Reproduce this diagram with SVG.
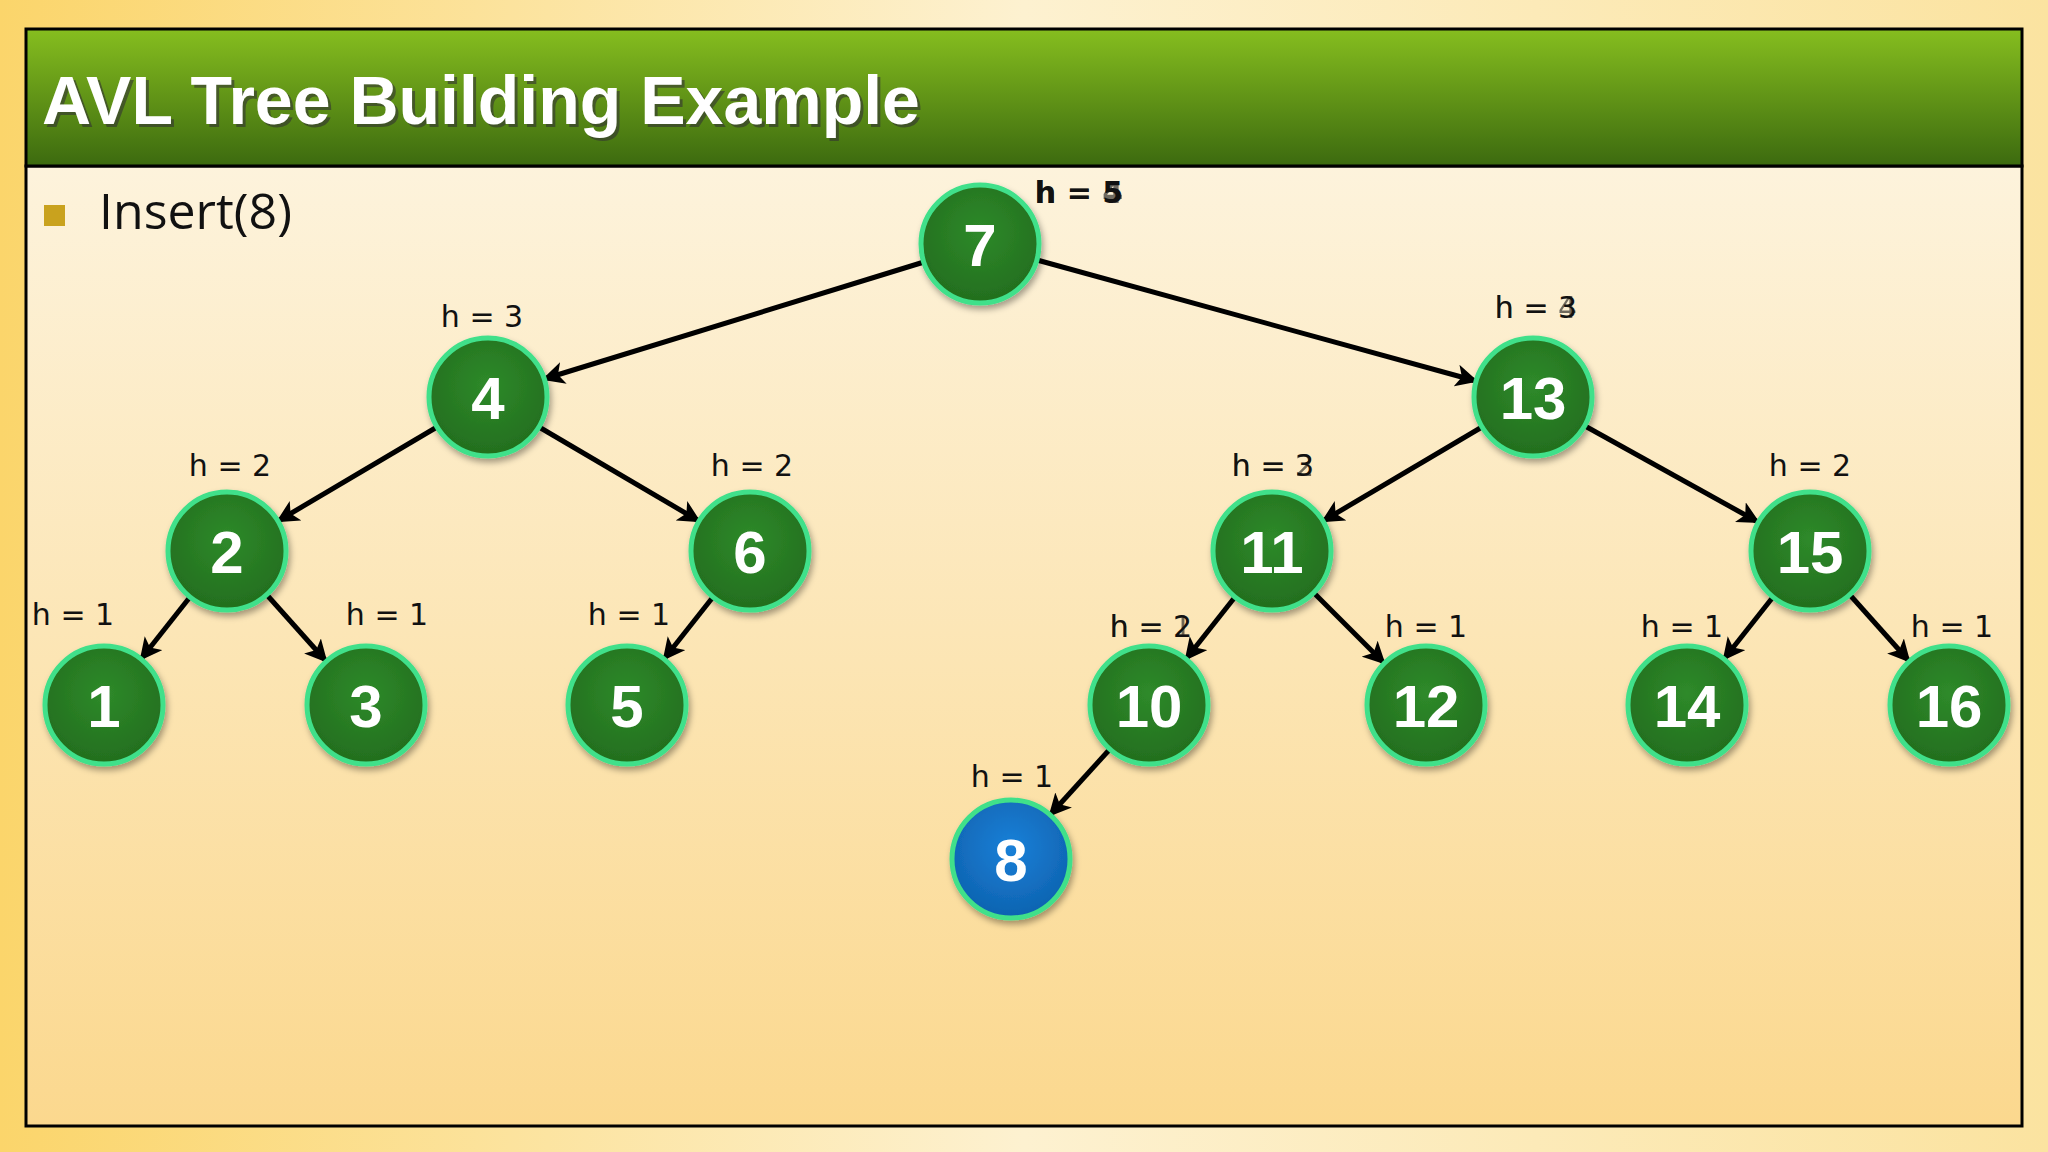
<svg xmlns="http://www.w3.org/2000/svg" width="2048" height="1152" viewBox="0 0 2048 1152">
<defs>
<linearGradient id="bg" x1="0" y1="0" x2="0" y2="1"><stop offset="0" stop-color="#fdf3dc"/><stop offset="1" stop-color="#fbd88e"/></linearGradient>
<linearGradient id="frame" x1="0" y1="0" x2="1" y2="0"><stop offset="0" stop-color="#fbd56b"/><stop offset="0.5" stop-color="#fdf1d0"/><stop offset="1" stop-color="#fbe3a0"/></linearGradient>
<linearGradient id="title" x1="0" y1="0" x2="0" y2="1"><stop offset="0" stop-color="#86be1f"/><stop offset="1" stop-color="#3c6a0f"/></linearGradient>
<radialGradient id="g" cx="0.5" cy="0.4" r="0.6"><stop offset="0" stop-color="#2e8a2a"/><stop offset="1" stop-color="#236e1e"/></radialGradient>
<radialGradient id="b" cx="0.5" cy="0.4" r="0.6"><stop offset="0" stop-color="#1a80d8"/><stop offset="1" stop-color="#0e63b0"/></radialGradient>
<marker id="ah" viewBox="0 0 10 10" refX="9" refY="5" markerWidth="4.5" markerHeight="4.5" orient="auto" markerUnits="strokeWidth"><path d="M0,0 L10,5 L0,10 L2.5,5 Z" fill="#000"/></marker>
<filter id="sh" x="-20%" y="-20%" width="140%" height="140%"><feDropShadow dx="2" dy="4" stdDeviation="3" flood-opacity="0.35"/></filter>
</defs>
<style>
.n circle{stroke:#3fe08a;stroke-width:5;filter:url(#sh)}
.n text{font-family:"Liberation Sans",Arial,sans-serif;font-weight:bold;font-size:60px;fill:#fff;text-anchor:middle}
.h{font-family:"DejaVu Sans","Liberation Sans",sans-serif;font-size:30px;fill:#111;text-anchor:middle}
#edges line{stroke:#000;stroke-width:5;marker-end:url(#ah)}
</style>
<rect width="2048" height="1152" fill="url(#frame)"/>
<rect x="26" y="166" width="1996" height="960" fill="url(#bg)" stroke="#000" stroke-width="3"/>
<rect x="26" y="29" width="1996" height="137" fill="url(#title)" stroke="#000" stroke-width="3"/>
<text x="45" y="127" font-family="Liberation Sans,Arial,sans-serif" font-weight="bold" font-size="68" fill="#333" opacity="0.6">AVL Tree Building Example</text>
<text x="42" y="124" font-family="Liberation Sans,Arial,sans-serif" font-weight="bold" font-size="68" fill="#fff">AVL Tree Building Example</text>
<rect x="44" y="205" width="21" height="21" fill="#c9a21e"/>
<text x="99" y="229" font-family="Open Sans,Liberation Sans,sans-serif" font-size="50" fill="#111">Insert(8)</text>
<g id="edges">
<line x1="924" y1="262" x2="544" y2="379"/>
<line x1="1037" y1="260" x2="1476" y2="381"/>
<line x1="437" y1="427" x2="278" y2="521"/>
<line x1="539" y1="427" x2="699" y2="521"/>
<line x1="1482" y1="427" x2="1323" y2="521"/>
<line x1="1585" y1="426" x2="1758" y2="522"/>
<line x1="190" y1="597" x2="141" y2="659"/>
<line x1="267" y1="595" x2="326" y2="661"/>
<line x1="713" y1="597" x2="664" y2="659"/>
<line x1="1235" y1="597" x2="1186" y2="659"/>
<line x1="1314" y1="593" x2="1384" y2="663"/>
<line x1="1773" y1="597" x2="1724" y2="659"/>
<line x1="1850" y1="595" x2="1909" y2="661"/>
<line x1="1110" y1="749" x2="1050" y2="815"/>
</g>
<g id="n7" class="n"><circle cx="980" cy="244" r="59" fill="url(#g)"/><text x="980" y="266">7</text></g>
<g id="n4" class="n"><circle cx="488" cy="397" r="59" fill="url(#g)"/><text x="488" y="419">4</text></g>
<g id="n13" class="n"><circle cx="1533" cy="397" r="59" fill="url(#g)"/><text x="1533" y="419">13</text></g>
<g id="n2" class="n"><circle cx="227" cy="551" r="59" fill="url(#g)"/><text x="227" y="573">2</text></g>
<g id="n6" class="n"><circle cx="750" cy="551" r="59" fill="url(#g)"/><text x="750" y="573">6</text></g>
<g id="n11" class="n"><circle cx="1272" cy="551" r="59" fill="url(#g)"/><text x="1272" y="573">11</text></g>
<g id="n15" class="n"><circle cx="1810" cy="551" r="59" fill="url(#g)"/><text x="1810" y="573">15</text></g>
<g id="n1" class="n"><circle cx="104" cy="705" r="59" fill="url(#g)"/><text x="104" y="727">1</text></g>
<g id="n3" class="n"><circle cx="366" cy="705" r="59" fill="url(#g)"/><text x="366" y="727">3</text></g>
<g id="n5" class="n"><circle cx="627" cy="705" r="59" fill="url(#g)"/><text x="627" y="727">5</text></g>
<g id="n10" class="n"><circle cx="1149" cy="705" r="59" fill="url(#g)"/><text x="1149" y="727">10</text></g>
<g id="n12" class="n"><circle cx="1426" cy="705" r="59" fill="url(#g)"/><text x="1426" y="727">12</text></g>
<g id="n14" class="n"><circle cx="1687" cy="705" r="59" fill="url(#g)"/><text x="1687" y="727">14</text></g>
<g id="n16" class="n"><circle cx="1949" cy="705" r="59" fill="url(#g)"/><text x="1949" y="727">16</text></g>
<g id="n8" class="n"><circle cx="1011" cy="859" r="59" fill="url(#b)"/><text x="1011" y="881">8</text></g>
<g id="labels">
<text class="h" x="1079" y="203" font-weight="bold">h = 5</text><text class="h" x="1079" y="203" font-weight="bold" opacity="0.6">h = 4</text>
<text class="h" x="482" y="327">h = 3</text>
<text class="h" x="1536" y="318">h = 3</text><text class="h" x="1536" y="318" opacity="0.6">h = 4</text>
<text class="h" x="230" y="476">h = 2</text>
<text class="h" x="752" y="476">h = 2</text>
<text class="h" x="1273" y="476">h = 3</text><text class="h" x="1273" y="476" opacity="0.6">h = 2</text>
<text class="h" x="1810" y="476">h = 2</text>
<text class="h" x="73" y="625">h = 1</text>
<text class="h" x="387" y="625">h = 1</text>
<text class="h" x="629" y="625">h = 1</text>
<text class="h" x="1151" y="637">h = 2</text><text class="h" x="1151" y="637" opacity="0.6">h = 1</text>
<text class="h" x="1426" y="637">h = 1</text>
<text class="h" x="1682" y="637">h = 1</text>
<text class="h" x="1952" y="637">h = 1</text>
<text class="h" x="1012" y="787">h = 1</text>
</g>
</svg>
